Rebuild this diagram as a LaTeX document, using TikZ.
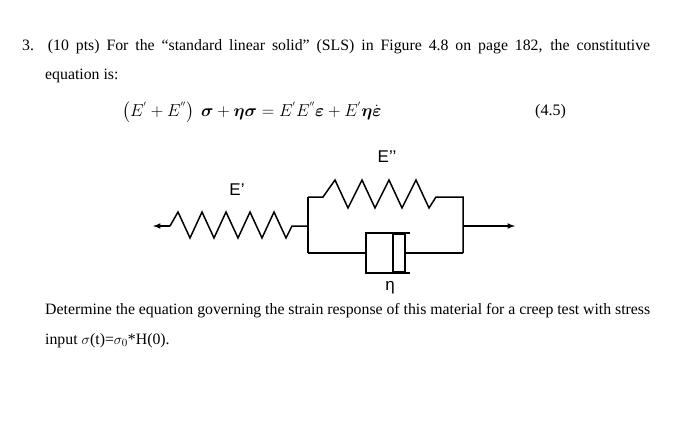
\documentclass[tikz,border=0pt]{standalone}
\usepackage{fontspec}
\setmainfont{Liberation Serif}
\newfontfamily\lsans{Liberation Sans}
\usepackage{amsmath}
\begin{document}
\begin{tikzpicture}[x=1pt,y=-1pt,
  txt/.style={anchor=west,inner sep=0,font=\fontsize{15.8}{18}\selectfont},
  lbl/.style={inner sep=0,font=\lsans\fontsize{17}{18}\selectfont},
  wire/.style={line width=1.5pt,line join=miter}]
\useasboundingbox (0,0) rectangle (700,428);
\node[txt] (l1) at (22,47) {\makebox[628pt][s]{3.\ \ (10 pts) For the ``standard linear solid'' (SLS) in Figure 4.8 on page 182, the constitutive}};
\node[txt] (l2) at (45,76) {equation is:};
\node[txt] (eq) at (122,112) {\fontsize{16}{18}\selectfont$\left(E^{'}+E^{''}\right)\ \boldsymbol{\sigma}+\boldsymbol{\eta}\boldsymbol{\sigma}=E^{'}E^{''}\boldsymbol{\varepsilon}+E^{'}\boldsymbol{\eta}\dot{\boldsymbol{\varepsilon}}$};
\node[txt] (num) at (535,112) {\fontsize{16}{18}\selectfont(4.5)};
\node[txt] (l3) at (45,311) {\makebox[605pt][s]{Determine the equation governing the strain response of this material for a creep test with stress}};
\node[txt] (l4) at (45,341) {input $\sigma$(t)=$\sigma_0$*H(0).};
\node[lbl] (e1) at (237,190) {E’};
\node[lbl] (e2) at (387,157) {E’’};
\node[lbl] (eta) at (390,288) {η};
\coordinate (la) at (153,226);
\coordinate (j1) at (308,226);
\coordinate (j2) at (463,226);
\coordinate (ra) at (515,226);
\draw[wire,-latex] (j2) -- (ra);
\draw[wire,-latex] (170,226) -- (la);
\draw[wire] (170,226) -- (178,212) -- (190,238) -- (202,212) -- (214,238) -- (226,212) -- (238,238) -- (250,212) -- (262,238) -- (274,212) -- (286,238) -- (292,226) -- (j1);
\draw[wire] (308,197) -- (308,253);
\draw[wire] (308,197) -- (323,197) -- (335,180) -- (348,208) -- (362,180) -- (375,208) -- (389,180) -- (402,208) -- (416,180) -- (429,208) -- (436,197) -- (463,197) -- (463,253);
\draw[wire] (308,253) -- (366,253);
\draw[wire] (410,233) -- (366,233) -- (366,273) -- (410,273);
\draw[wire] (393,234) rectangle (405,272);
\draw[wire] (405,253) -- (463,253);
\end{tikzpicture}
\end{document}
